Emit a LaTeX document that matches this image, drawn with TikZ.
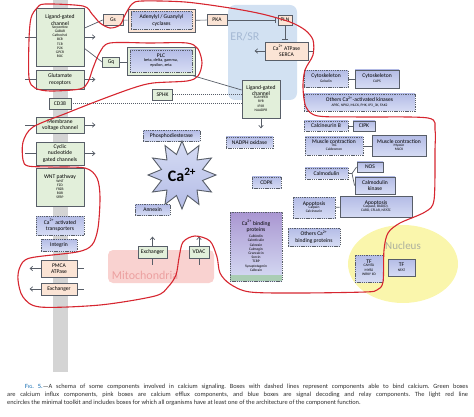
\documentclass[tikz,border=0pt]{standalone}
\usepackage{fontspec}
\setmainfont{Carlito}
\usetikzlibrary{shapes.geometric, arrows.meta, positioning, calc}
\definecolor{InfluxGreen}{RGB}{226,239,218}
\definecolor{EffluxPink}{RGB}{251,228,213}
\definecolor{RelayBlue}{RGB}{214,220,244}
\definecolor{RelayBlueTop}{RGB}{180,188,230}
\definecolor{BoxEdge}{RGB}{88,94,104}
\definecolor{ToolkitRed}{RGB}{214,38,48}
\definecolor{MembraneGray}{RGB}{212,212,212}
\definecolor{ErBlue}{RGB}{210,225,242}
\definecolor{ErText}{RGB}{165,185,212}
\definecolor{MitoPink}{RGB}{249,210,208}
\definecolor{MitoText}{RGB}{236,160,160}
\definecolor{NucYellow}{RGB}{250,246,172}
\definecolor{NucText}{RGB}{172,176,158}
\definecolor{FigBlue}{RGB}{0,95,170}
\definecolor{CapText}{RGB}{45,45,45}
\definecolor{BinderGreen}{RGB}{170,205,180}

\newcommand{\sm}{\fontsize{3.6}{4.2}\selectfont}
\newcommand{\sublist}[1]{{\sm\begin{tabular}{@{}c@{}}#1\end{tabular}}}
\newcommand{\midlist}[1]{{\fontsize{4.2}{4.8}\selectfont\begin{tabular}{@{}c@{}}#1\end{tabular}}}

\tikzset{
  box/.style={draw=BoxEdge, line width=0.7pt, inner sep=0.5pt, align=center,
    font=\fontsize{5.6}{6.4}\selectfont},
  influx/.style={box, fill=InfluxGreen},
  efflux/.style={box, fill=EffluxPink},
  relay/.style={box, top color=RelayBlueTop, bottom color=RelayBlue, line width=0.9pt},
  binder/.style={relay, dash pattern=on 1.3pt off 0.9pt, line width=0.8pt},
  link/.style={draw=BoxEdge, line width=0.7pt},
  tip/.style={link, -{Straight Barb[length=2.5pt, width=4.5pt]}},
  block/.style={link, -{Bar[width=6pt]}, shorten >=1.5pt},
  cue/.style={link, dash pattern=on 1pt off 1pt},
  toolkit/.style={draw=ToolkitRed, line width=1.1pt},
  caption/.style={anchor=base west, inner sep=0pt, text=CapText, font=\fontsize{6.4}{7.5}\selectfont\frenchspacing}
}

\begin{document}
\begin{tikzpicture}[x=1pt, y=-1pt]
  \useasboundingbox (0,0) rectangle (474,417);

  % compartments
  \fill[MembraneGray] (53,0) rectangle (68,372);
  \fill[ErBlue, rounded corners=7pt] (228,5) rectangle (297,100);
  \node[text=ErText, font=\fontsize{12}{12}\selectfont] (erlabel) at (245,37) {ER/SR};
  \fill[MitoPink, rounded corners=5pt] (108,250) rectangle (214,283);
  \node[text=MitoText, font=\fontsize{12}{12}\selectfont] (mitolabel) at (145,275) {Mitochondria};
  \fill[NucYellow] (403,264) ellipse [x radius=55, y radius=39];
  \node[text=NucText, font=\fontsize{11}{11}\selectfont] (nuclabel) at (403,246) {Nucleus};

  % plasma membrane, influx side
  \node[influx, minimum width=48, minimum height=58] (lgc) at (60,37)
    {Ligand-gated\\channel\\[-1pt]\sublist{Serpentine\\GABAR\\Cathechol\\BCR\\TCR\\P2X\\GPCR\\ROC}};
  \node[influx, minimum width=48, minimum height=19] (glu) at (60,79.5) {Glutamate\\receptors};
  \node[influx, minimum width=22, minimum height=11] (cd38) at (60,103.5) {CD38};
  \node[influx, minimum width=48, minimum height=16] (mvc) at (60,125) {Membrane\\voltage channel};
  \node[influx, minimum width=48, minimum height=23] (cng) at (60,153.5) {Cyclic\\nucleotide\\gated channels};
  \node[influx, minimum width=48, minimum height=38, anchor=north] (wnt) at (60,168)
    {WNT pathway\\[-1pt]\sublist{WNT\\FZD\\FRZB\\ROR\\SFRP}};
  \node[binder, minimum width=48, minimum height=19] (catr) at (60,225.5) {Ca\textsuperscript{2+} activated\\transporters};
  \node[binder, minimum width=36, minimum height=12] (integ) at (59,245) {Integrin};

  % plasma membrane, efflux side
  \node[efflux, minimum width=36, minimum height=17] (pmca) at (59,268.5) {PMCA\\ATPase};
  \node[efflux, minimum width=36, minimum height=12] (exl) at (59,289) {Exchanger};

  % G proteins and second messengers
  \node[efflux, minimum width=20, minimum height=11] (gs) at (113,20) {Gs};
  \node[efflux, minimum width=67, minimum height=23] (acout) at (161.5,20.5) {};
  \node[binder, minimum width=61, minimum height=18] (ac) at (161.5,20.5) {Adenylyl / Guanylyl\\cyclases};
  \node[efflux, minimum width=20, minimum height=11] (pka) at (217,20) {PKA};
  \node[efflux, minimum width=14, minimum height=10] (pln) at (285,20) {PLN};
  \node[efflux, minimum width=43, minimum height=18] (serca) at (286.5,51) {Ca\textsuperscript{2+} ATPase\\SERCA};
  \node[influx, minimum width=17, minimum height=10] (gq) at (111,62) {Gq};
  \node[influx, minimum width=68, minimum height=28] (plcout) at (161,61) {};
  \node[binder, minimum width=62, minimum height=22] (plc) at (161,61)
    {PLC\\\midlist{beta, delta, gamma,\\epsilon, zeta}};
  \node[influx, minimum width=20, minimum height=11] (sphk) at (162.5,94.5) {SPHK};
  \node[influx, minimum width=38, minimum height=38] (erlgc) at (261,99)
    {Ligand-gated\\channel\\[-1pt]\sublist{SCAMPER\\RYR\\IP3R\\NAADPR}};

  % cytosolic decoders
  \node[binder, minimum width=57, minimum height=11] (pde) at (171.5,136) {Phosphodiesterase};
  \node[binder, minimum width=47, minimum height=11] (nadph) at (249.5,142.5) {NADPH oxidase};
  \node[star, star points=12, star point ratio=1.6, minimum size=68, inner sep=0pt,
    draw=BoxEdge, line width=0.9pt, top color=RelayBlue, bottom color=RelayBlueTop,
    font=\bfseries\fontsize{16}{16}\selectfont] (ca) at (182,175) {Ca\textsuperscript{2+}};
  \node[binder, minimum width=29, minimum height=11] (cdpk) at (266.5,182.5) {CDPK};
  \node[binder, minimum width=35, minimum height=11] (annex) at (152.5,210) {Annexin};
  \node[binder, minimum width=52, minimum height=69, top color=RelayBlueTop!80!violet, bottom color=RelayBlue,
    path picture={\fill[BinderGreen] ([yshift=6pt]path picture bounding box.south west) rectangle (path picture bounding box.south east);}]
    (cabp) at (256,246.5)
    {Ca\textsuperscript{2+} binding\\proteins\\[1pt]\sublist{Calbindin\\Calreticulin\\Calnexin\\Calmegin\\Grancalcin\\Sorcin\\TCBP\\Synaptotagmin\\Calbrain}};
  \node[binder, minimum width=52, minimum height=18] (ocbp) at (314,237) {Others Ca\textsuperscript{2+}\\binding proteins};
  \node[influx, minimum width=29, minimum height=12] (exm) at (152.5,252) {Exchanger};
  \node[influx, minimum width=20, minimum height=12] (vdac) at (199,252) {VDAC};

  % right column
  \node[binder, minimum width=44, minimum height=17] (cyd) at (326,79) {Cytoskeleton\\[-1pt]\sublist{Gelsolin}};
  \node[relay, minimum width=44, minimum height=18] (cys) at (377,79) {Cytoskeleton\\[-1pt]\sublist{CAPS}};
  \node[binder, minimum width=111, minimum height=17] (okin) at (359.5,102.5)
    {Others Ca\textsuperscript{2+}-activated kinases\\[-1pt]\sublist{APRC, NPK2, MLCK, PHK, IP3\_3K, FAK2}};
  \node[binder, minimum width=44, minimum height=10] (cnb) at (326,126) {Calcineurin B};
  \node[relay, minimum width=22, minimum height=10] (cipk) at (364,126) {CIPK};
  \node[binder, minimum width=58, minimum height=18] (mcd) at (334,146) {Muscle contraction\\[-1pt]\sublist{TnC\\Caldesmon}};
  \node[relay, minimum width=54, minimum height=21] (mcs) at (399,146) {Muscle contraction\\[-1pt]\sublist{Myosin\\MLCK}};
  \node[binder, minimum width=43, minimum height=11] (cam) at (326.5,173.5) {Calmodulin};
  \node[relay, minimum width=26, minimum height=10] (nos) at (370,167) {NOS};
  \node[relay, minimum width=40, minimum height=17] (camk) at (375,185.5) {Calmodulin\\kinase};
  \node[binder, minimum width=42, minimum height=21] (apd) at (314,207.5) {Apoptosis\\[-1pt]\sublist{Calpain\\Calcineurin}};
  \node[relay, minimum width=72, minimum height=21] (aps) at (376,207) {Apoptosis\\[-1pt]\sublist{Caspase, BAD(D),\\CARD, CFLAR, NFATC}};
  \node[binder, minimum width=28, minimum height=27] (tfd) at (369,268.5) {TF\\[-1pt]\sublist{CAMTA\\MYB2\\WRKY IID}};
  \node[relay, minimum width=27, minimum height=17] (tfs) at (401.5,267.5) {TF\\[-1pt]\sublist{NFAT}};
  \coordinate (fork) at (352,173.5);

  % connectors
  \draw[link] (lgc.west) -- ++(-11,0);
  \draw[tip] (lgc.east) -- ++(11,0);
  \draw[link] (glu.west) -- ++(-11,0);
  \draw[tip] (glu.east) -- ++(11,0);
  \draw[link] (mvc.west) -- ++(-11,0);
  \draw[tip] (mvc.east) -- ++(11,0);
  \draw[link] (cng.west) -- ++(-11,0);
  \draw[tip] (cng.east) -- ++(11,0);
  \draw[tip] (pmca.west) -- ++(-11,0);
  \draw[link] (pmca.east) -- ++(7,0);
  \draw[tip] (exl.west) -- ++(-11,0);
  \draw[link] (exl.east) -- ++(7,0);
  \draw[link] (lgc.20) -- (gs.west);
  \draw[link] (lgc.-25) -- (gq.west);
  \draw[link] (gs) -- (acout);
  \draw[link] (acout) -- (pka);
  \draw[block] (pka) -- (pln);
  \draw[block] (pln.south) -- (pln.south |- serca.north);
  \draw[tip] (serca.west) -- ++(-10,0);
  \draw[link] (serca.east) -- ++(5,0);
  \draw[link] (gq.east) -- (gq.east -| plcout.west);
  \draw[link] (plcout.-25) -- (erlgc.155);
  \draw[cue] (sphk.east) -- (sphk.east -| erlgc.west);
  \draw[cue] (cd38.east) -- (cd38.east -| erlgc.west);
  \draw[tip] (erlgc.south) -- ++(0,10);
  \draw[link] (cyd) -- (cys);
  \draw[link] (cnb) -- (cipk);
  \draw[link] (mcd) -- (mcs);
  \draw[link] (cam.east) -- (fork) -- (nos.west);
  \draw[link] (fork) -- (camk.west);
  \draw[link] (apd) -- (aps);
  \draw[tip] (exm.north) -- ++(0,-9);
  \draw[link] (exm.south) -- ++(0,7);
  \draw[tip] (vdac.north) -- ++(0,-9);
  \draw[link] (vdac.south) -- ++(0,7);

  % minimal toolkit
  \draw[toolkit] plot[smooth cycle, tension=0.5] coordinates {
    (23,160) (23,142) (33,127) (67,113) (100,100) (133,88) (153,83) (187,81)
    (198,76) (202,63) (198,49) (187,43) (150,43) (110,43) (100,52) (93,68)
    (88,82) (80,89) (50,91) (35,88) (29,78) (29,40) (31,18) (37,8) (45,4)
    (83,6) (92,14) (100,23) (110,28) (120,25) (125,15) (132,4) (142,1)
    (185,2) (230,8) (262,14) (290,22) (305,30) (313,40) (313,55) (305,70)
    (303,87) (306,107) (318,116) (360,117) (428,118) (435,130) (435,150)
    (434,200) (425,212) (400,223) (388,233) (384,250) (383,282) (377,290)
    (365,292) (300,293) (250,292) (230,284) (220,273) (217,257) (210,241)
    (195,236) (183,242) (179,258) (176,275) (168,287) (155,296) (100,305)
    (40,307) (23,297) (18,280) (20,267) (30,258) (77,252) (92,245) (98,228)
    (100,197) (97,178) (85,168) (50,167) (28,166)};

  % caption
  \node[caption] (cap1) at (25,388) {\makebox[443pt][s]{\textcolor{FigBlue}{F{\fontsize{4.8}{5}\selectfont IG}. 5.}---A schema of some components involved in calcium signaling. Boxes with dashed lines represent components able to bind calcium. Green boxes}};
  \node[caption] (cap2) at (7,396) {\makebox[461pt][s]{are calcium influx components, pink boxes are calcium efflux components, and blue boxes are signal decoding and relay components. The light red line}};
  \node[caption] (cap3) at (7,404) {encircles the minimal toolkit and includes boxes for which all organisms have at least one of the architecture of the component function.};
\end{tikzpicture}
\end{document}
